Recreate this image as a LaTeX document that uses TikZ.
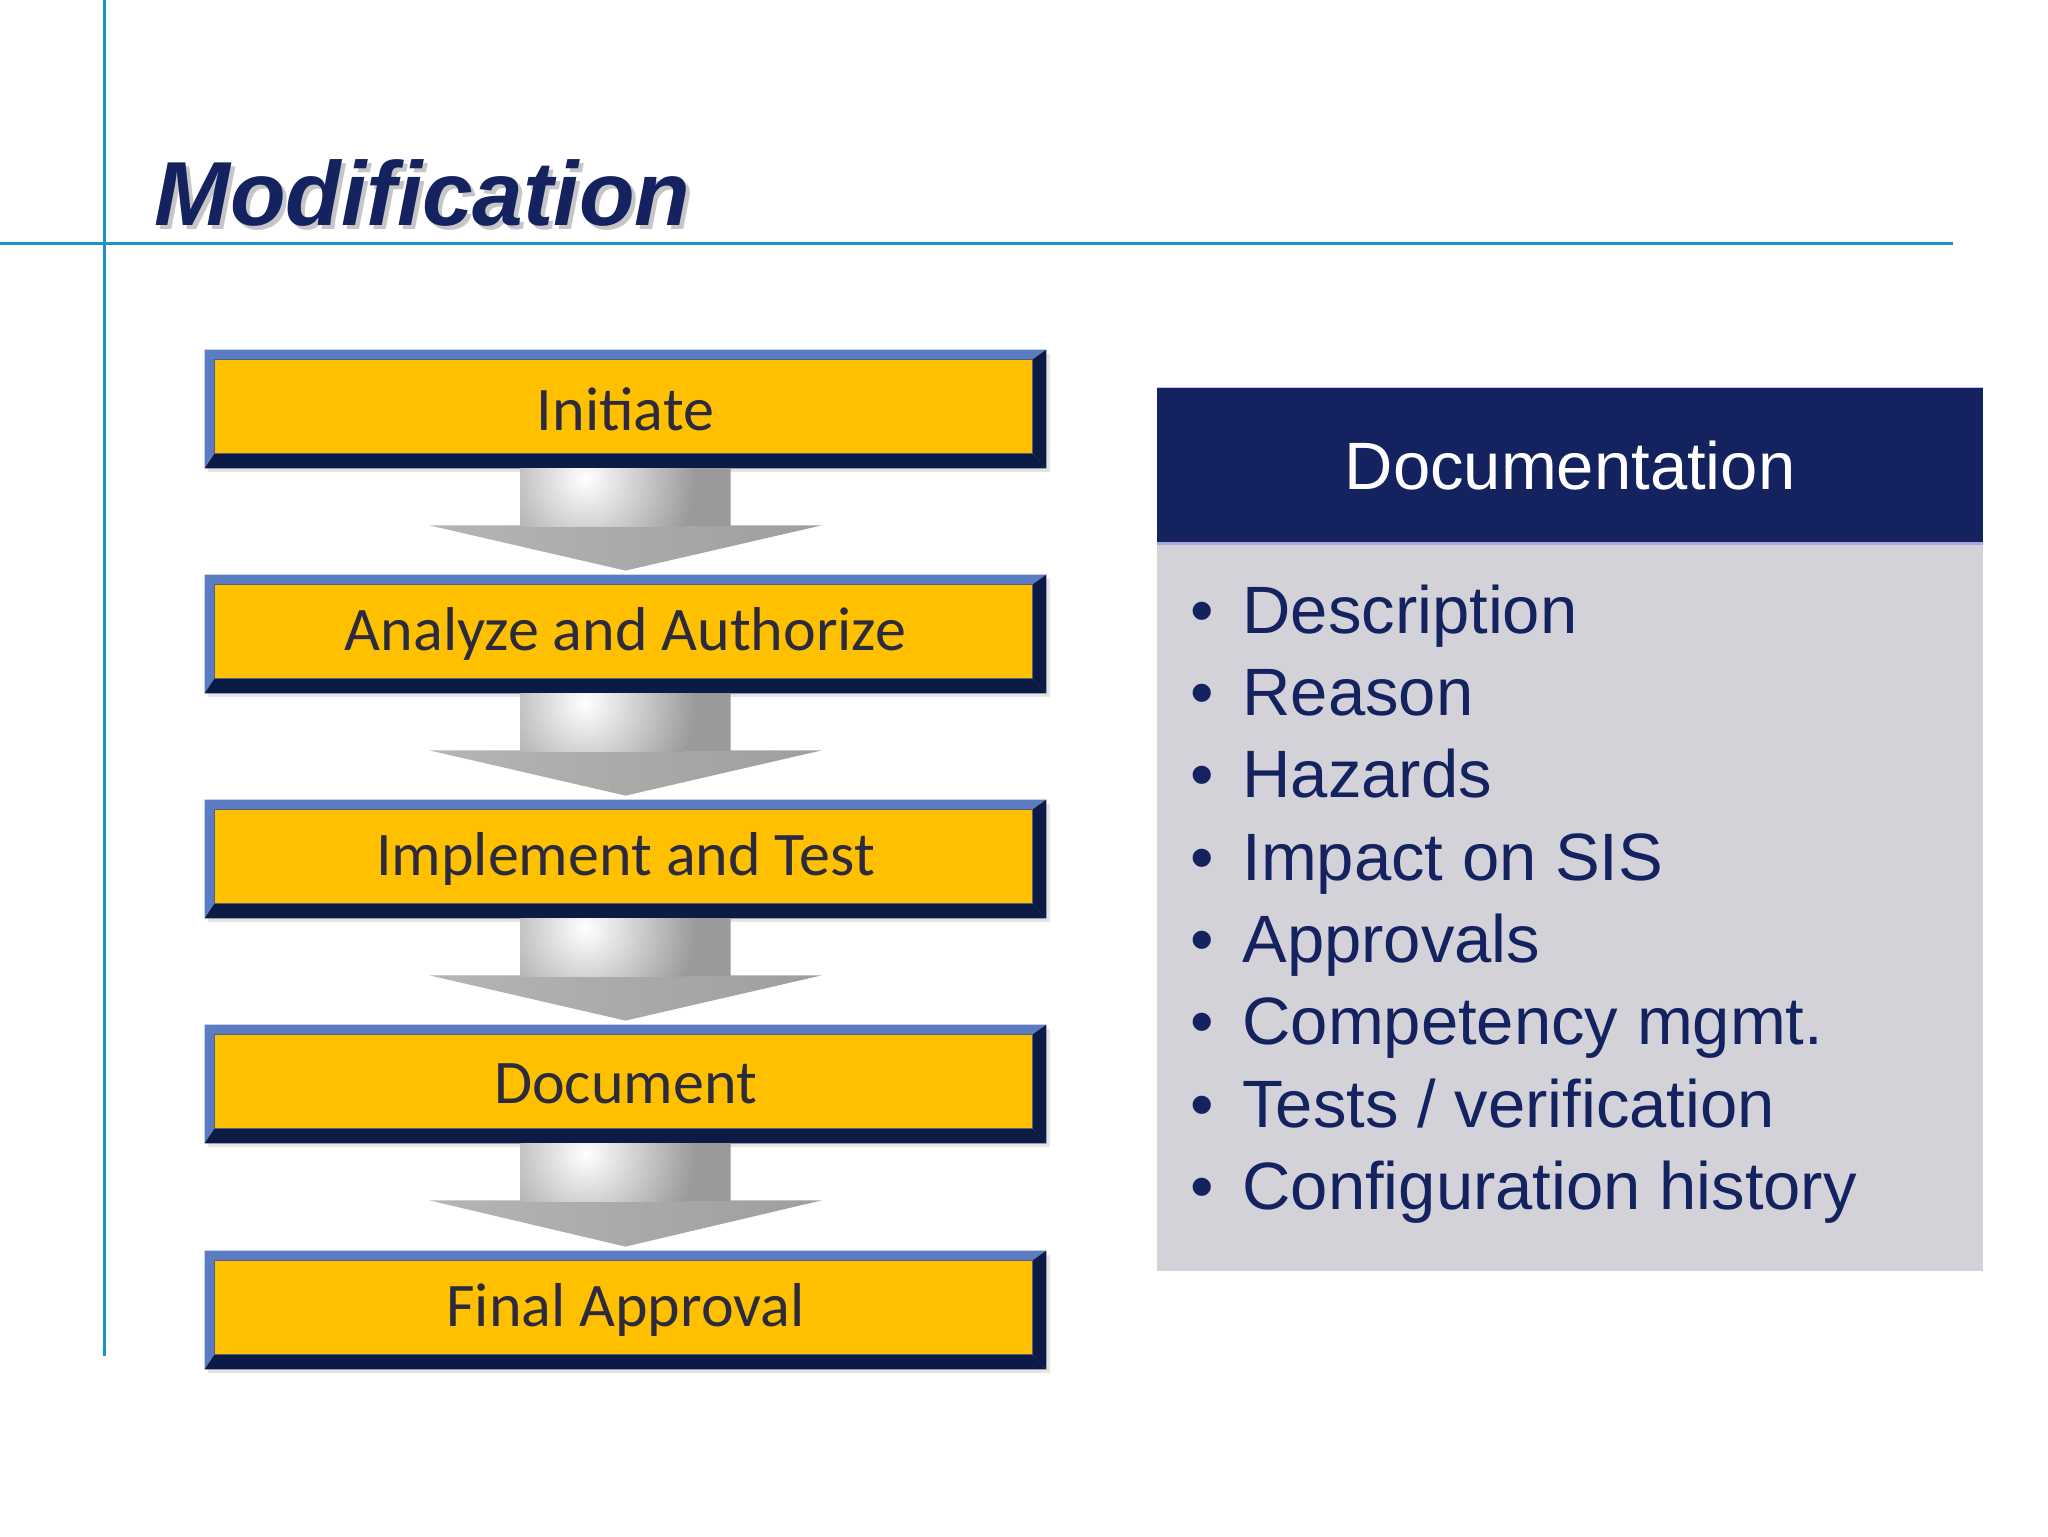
\documentclass[tikz,border=0pt]{standalone}
\usepackage{fontspec}
\setmainfont{Liberation Sans}
\newfontfamily\boxfont{Carlito}
\usetikzlibrary{calc}
\definecolor{navy}{HTML}{14225F}
\definecolor{rulecol}{HTML}{1A93C8}
\definecolor{boxyellow}{HTML}{FFC000}
\definecolor{boxtext}{HTML}{2B2B3D}
\definecolor{bevlight}{HTML}{5B7CC2}
\definecolor{bevdark}{HTML}{0C1A46}
\definecolor{panelgray}{HTML}{D3D2D9}
\definecolor{shaftgray}{HTML}{9A9A9A}
\tikzset{
  rule/.style={draw=rulecol, line width=1.5pt},
  stepbox/.style={minimum width=420.5pt, minimum height=59pt, fill=boxyellow, inner sep=0pt,
    font=\boxfont\fontsize{31}{37}\selectfont, text=boxtext},
  boxshadow/.style={fill=black, opacity=0.10},
  headbox/.style={fill=navy, minimum width=413pt, minimum height=77.5pt, inner sep=0pt,
    text=white, font=\fontsize{33.5}{40}\selectfont},
  bodybox/.style={fill=panelgray, minimum width=413pt, minimum height=364pt, inner sep=0pt},
  itemtext/.style={anchor=base west, inner sep=0pt, text=navy, font=\fontsize{33.5}{40}\selectfont},
  itembullet/.style={anchor=base, inner sep=0pt, text=navy, font=\fontsize{33.5}{40}\selectfont},
}
\newcommand\bevelbox[1]{%
  \fill[bevlight] (#1.north west) -- (#1.north east) -- ($(#1.north east)+(-14,10)$) -- ($(#1.north west)+(10,10)$) -- cycle;
  \fill[bevlight] (#1.north west) -- ($(#1.north west)+(10,10)$) -- ($(#1.south west)+(10,-15)$) -- (#1.south west) -- cycle;
  \fill[bevdark] (#1.south west) -- ($(#1.south west)+(10,-15)$) -- ($(#1.south east)+(-14,-15)$) -- (#1.south east) -- cycle;
  \fill[bevdark] (#1.north east) -- (#1.south east) -- ($(#1.south east)+(-14,-15)$) -- ($(#1.north east)+(-14,10)$) -- cycle;
  \draw[bevdark!70, line width=0.6pt] ($(#1.north west)+(10,10)$) rectangle ($(#1.south east)+(-14,-15)$);
}
\newcommand\flowarrow[2]{%
  \shade[left color=gray!58, right color=gray!76] ($(#1.south)+(-196,57)$) -- ($(#1.south)+(196,57)$) -- ($(#2.north)+(0,-4)$) -- cycle;
  \begin{scope}
    \clip ($(#1.south)+(-105,0)$) rectangle ($(#1.south)+(105,58)$);
    \fill[shaftgray] ($(#1.south)+(-105,0)$) rectangle ($(#1.south)+(105,58)$);
    \shade[inner color=white, outer color=shaftgray] ($(#1.south)+(-40,10)$) circle (110);
  \end{scope}
}
\begin{document}
\begin{tikzpicture}[x=0.5pt,y=-0.5pt]
\useasboundingbox (0,0) rectangle (2048,1536);
\fill[white] (0,0) rectangle (2048,1536);

% rules
\coordinate (vtop) at (104.5,0);
\coordinate (vbot) at (104.5,1356);
\coordinate (hleft) at (0,243);
\coordinate (hright) at (1953,243);
\draw[rule] (vtop) -- (vbot);
\draw[rule] (hleft) -- (hright);

% title
\node[anchor=base west, inner sep=0pt, text=gray!45, font=\fontsize{45.5}{54}\selectfont\bfseries\itshape] (titleshadow) at (158,229) {Modification};
\node[anchor=base west, inner sep=0pt, text=navy, font=\fontsize{45.5}{54}\selectfont\bfseries\itshape] (title) at (154,225) {Modification};

% shadows of boxes
\foreach \yy in {409,634,859,1084,1310} {
  \fill[boxshadow] (208,\yy-55) rectangle (1050,\yy+63);
}

% boxes
\node[stepbox] (s1) at (625.5,409) {Initiate};
\node[stepbox] (s2) at (625.5,634) {Analyze and Authorize};
\node[stepbox] (s3) at (625.5,859) {Implement and Test};
\node[stepbox] (s4) at (625.5,1084) {Document};
\node[stepbox] (s5) at (625.5,1310) {Final Approval};
\bevelbox{s1}
\bevelbox{s2}
\bevelbox{s3}
\bevelbox{s4}
\bevelbox{s5}

% arrows
\flowarrow{s1}{s2}
\flowarrow{s2}{s3}
\flowarrow{s3}{s4}
\flowarrow{s4}{s5}

% documentation panel
\node[bodybox] (docbody) at (1570,907) {};
\node[headbox] (dochead) at (1570,465.5) {Documentation};
\draw[blue!25, line width=0.8pt] (dochead.north west) -- (dochead.north east);
\draw[blue!20!panelgray, line width=1.2pt] (dochead.south west) -- (dochead.south east);

\foreach \t [count=\i from 0] in {Description,Reason,Hazards,Impact on SIS,Approvals,Competency mgmt.,Tests / verification,Configuration history} {
  \node[itembullet] (bul\i) at (1202,633+82.35*\i) {\textbullet};
  \node[itemtext] (item\i) at (1242,633+82.35*\i) {\t};
}
\end{tikzpicture}
\end{document}
